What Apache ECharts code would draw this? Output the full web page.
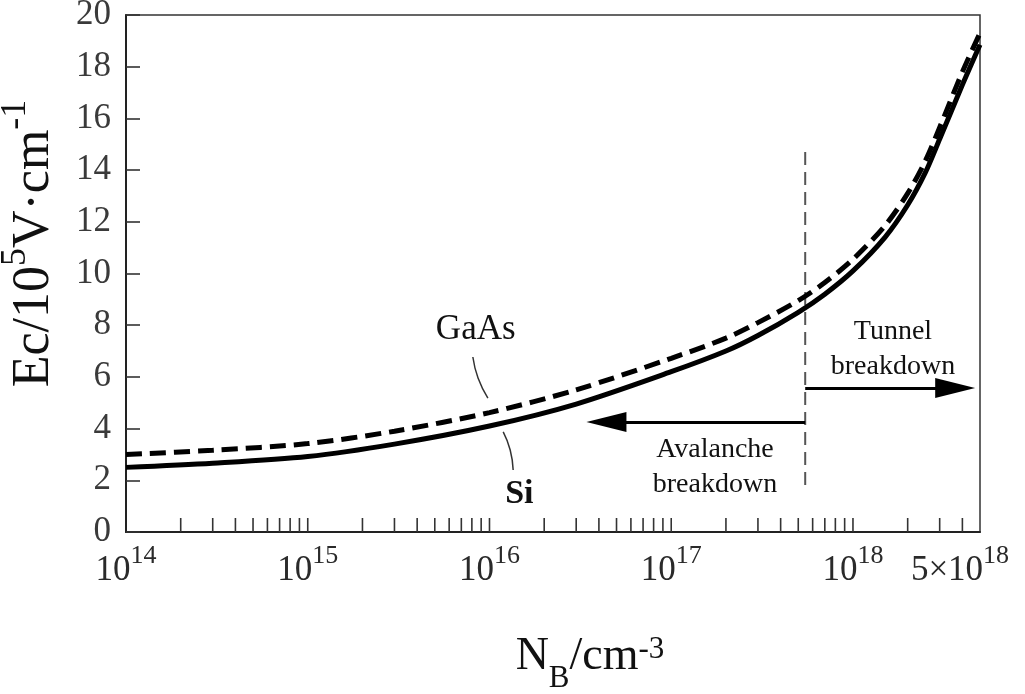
<!DOCTYPE html>
<html><head><meta charset="utf-8">
<script src="https://cdn.jsdelivr.net/npm/echarts@6/dist/echarts.min.js"></script>
<style>html,body{margin:0;padding:0;background:#fff}#c{width:1025px;height:694px}</style>
</head><body><div id="c"></div>
<script>
// ---- data ----
const dopingN = [1e14, 3e14, 1e15, 3e15, 1e16, 3e16, 1e17, 2e17, 3e17, 5e17, 7e17, 1e18, 1.5e18, 2e18, 2.5e18, 3e18, 4e18, 5e18];
const siEc    = [2.5, 2.66, 2.92, 3.4, 4.1, 4.95, 6.2, 7.0, 7.6, 8.5, 9.2, 10.1, 11.4, 12.65, 13.9, 15.2, 17.3, 18.85];
const gaasEc  = [3.0, 3.16, 3.42, 3.9, 4.62, 5.5, 6.72, 7.5, 8.1, 8.95, 9.65, 10.55, 11.85, 13.1, 14.35, 15.65, 17.8, 19.3];

const xTickDecades = [14, 15, 16, 17, 18];
const xTickMultipliers = [1, 2, 3, 4, 5, 6, 7, 8, 9];
const xMin = 1e14, xMax = 5e18;
const xTickLabels = [
  { value: 1e14, base: '10', sup: '14' },
  { value: 1e15, base: '10', sup: '15' },
  { value: 1e16, base: '10', sup: '16' },
  { value: 1e17, base: '10', sup: '17' },
  { value: 1e18, base: '10', sup: '18' },
  { value: 5e18, base: '5×10', sup: '18', last: true }
];
const yMin = 0, yMax = 20, yInterval = 2;

// boundary between avalanche and tunnel breakdown
const boundaryN = 5.46e17;
const boundaryEc = [1.82, 14.78];
const avalancheArrow = { from: [5.46e17, 4.26], to: [4.4e16, 4.26] };
const tunnelArrow = { from: [5.46e17, 5.57], to: [3.65e18, 5.57] };

const annotations = [
  { name: 'GaAs', value: [8.4e15, 7.81], size: 35, bold: false },
  { name: 'Si', value: [1.46e16, 1.47], size: 34, bold: true },
  { name: 'Avalanche\nbreakdown', value: [1.74e17, 2.5], size: 28, bold: false },
  { name: 'Tunnel\nbreakdown', value: [1.66e18, 7.08], size: 28, bold: false }
];
const gaasPointer = [[8.1e15, 6.77], [8.65e15, 5.96], [9.8e15, 5.18]];
const siPointer = [[1.19e16, 3.87], [1.30e16, 3.17], [1.35e16, 2.40]];

// ---- build ----
const F = '"Liberation Serif","Times New Roman",serif';
const tickValues = [];
xTickDecades.forEach(d => xTickMultipliers.forEach(m => {
  const v = m * Math.pow(10, d);
  if (v > xMin && v < xMax) tickValues.push([v, 0]);
}));

function findLabel(v) {
  let best = null, bd = Infinity;
  xTickLabels.forEach(l => {
    const d = Math.abs(Math.log10(v) - Math.log10(l.value));
    if (d < bd) { bd = d; best = l; }
  });
  return bd < 0.01 ? best : null;
}

const chart = echarts.init(document.getElementById('c'), null, { renderer: 'canvas' });
chart.setOption({
  animation: false,
  backgroundColor: '#fff',
  grid: {
    left: 126, right: 45, top: 15, bottom: 162,
    show: true, borderColor: '#333', borderWidth: 1.5,
    containLabel: false, outerBoundsMode: 'none'
  },
  xAxis: {
    type: 'log', logBase: 10, min: xMin, max: xMax,
    splitLine: { show: false },
    axisLine: { lineStyle: { color: '#222', width: 2 } },
    axisTick: { show: false },
    minorTick: { show: false },
    axisLabel: {
      margin: 11,
      color: '#2a2a2a',
      fontFamily: F,
      showMinLabel: true, showMaxLabel: true,
      formatter: function (v) {
        const l = findLabel(v);
        if (!l) return '';
        if (l.last) return '{bl|' + l.base + '}{sl|' + l.sup + '}';
        return '{b|' + l.base + '}{s|' + l.sup + '}';
      },
      rich: {
        b: { fontFamily: F, fontSize: 35, color: '#2a2a2a', verticalAlign: 'bottom', lineHeight: 45 },
        s: { fontFamily: F, fontSize: 26, color: '#2a2a2a', verticalAlign: 'top' },
        bl: { fontFamily: F, fontSize: 35, color: '#2a2a2a', verticalAlign: 'bottom', lineHeight: 45 },
        sl: { fontFamily: F, fontSize: 26, color: '#2a2a2a', verticalAlign: 'top', padding: [0, 40, 0, 0] }
      }
    },
    name: '{b|N}{sub|B}{b|/cm}{sup|-3}',
    nameLocation: 'middle',
    nameGap: 102,
    nameTextStyle: {
      fontFamily: F, fontSize: 46, color: '#111', padding: [0, 0, 0, 74],
      rich: {
        b: { fontFamily: F, fontSize: 46, color: '#111', verticalAlign: 'top' },
        sub: { fontFamily: F, fontSize: 31, color: '#111', verticalAlign: 'bottom', lineHeight: 60 },
        sup: { fontFamily: F, fontSize: 31, color: '#111', verticalAlign: 'top' }
      }
    }
  },
  yAxis: {
    type: 'value', min: yMin, max: yMax, interval: yInterval,
    splitLine: { show: false },
    axisLine: { lineStyle: { color: '#222', width: 2 } },
    axisTick: { inside: true, length: 14, lineStyle: { color: '#333', width: 1.6 } },
    axisLabel: { margin: 15, fontFamily: F, fontSize: 35, color: '#3a3a3a' },
    name: '{b|Ec/10}{s|5}{b|V·cm}{s|-1}',
    nameLocation: 'middle',
    nameGap: 66,
    nameTextStyle: {
      fontFamily: F, fontSize: 52, color: '#111', padding: [0, 0, 0, 60],
      rich: {
        b: { fontFamily: F, fontSize: 52, color: '#111', verticalAlign: 'bottom', lineHeight: 62 },
        s: { fontFamily: F, fontSize: 36, color: '#111', verticalAlign: 'top' }
      }
    }
  },
  series: [
    {
      name: 'ticks', type: 'custom', silent: true, z: 5,
      data: tickValues,
      renderItem: function (params, api) {
        const p = api.coord([api.value(0), 0]);
        return { type: 'line', shape: { x1: p[0], y1: p[1], x2: p[0], y2: p[1] - 14 },
                 style: { stroke: '#333', lineWidth: 1.6 } };
      }
    },
    {
      name: 'Si', type: 'line', smooth: 0.3, showSymbol: false, silent: true, z: 3,
      data: dopingN.map((n, i) => [n, siEc[i]]),
      lineStyle: { color: '#000', width: 5 }
    },
    {
      name: 'GaAs', type: 'line', smooth: 0.3, showSymbol: false, silent: true, z: 4,
      data: dopingN.map((n, i) => [n, gaasEc[i]]),
      lineStyle: { color: '#000', width: 5, type: [16, 8] }
    },
    {
      name: 'boundary', type: 'line', showSymbol: false, silent: true, z: 2,
      data: [[boundaryN, boundaryEc[0]], [boundaryN, boundaryEc[1]]],
      lineStyle: { color: '#555', width: 2, type: [13, 7] },
      markLine: {
        silent: true, animation: false,
        symbol: ['none', 'triangle'], symbolSize: [20, 40],
        label: { show: false },
        lineStyle: { color: '#000', width: 3, type: 'solid' },
        emphasis: { disabled: true },
        data: [
          [{ coord: avalancheArrow.from }, { coord: avalancheArrow.to }],
          [{ coord: tunnelArrow.from }, { coord: tunnelArrow.to }]
        ]
      }
    },
    {
      name: 'gaasPointer', type: 'line', smooth: true, showSymbol: false, silent: true,
      data: gaasPointer, lineStyle: { color: '#333', width: 1.5 }
    },
    {
      name: 'siPointer', type: 'line', smooth: true, showSymbol: false, silent: true,
      data: siPointer, lineStyle: { color: '#333', width: 1.5 }
    },
    {
      name: 'annotations', type: 'scatter', symbolSize: 0, silent: true, z: 6,
      itemStyle: { opacity: 1 },
      data: annotations.map(a => ({
        name: a.name, value: a.value,
        label: { fontSize: a.size, fontWeight: a.bold ? 'bold' : 'normal', lineHeight: a.size + 7 }
      })),
      label: {
        show: true, position: 'inside', formatter: '{b}', opacity: 1,
        fontFamily: F, color: '#111', align: 'center', verticalAlign: 'middle'
      }
    }
  ]
});
</script>
</body></html>
